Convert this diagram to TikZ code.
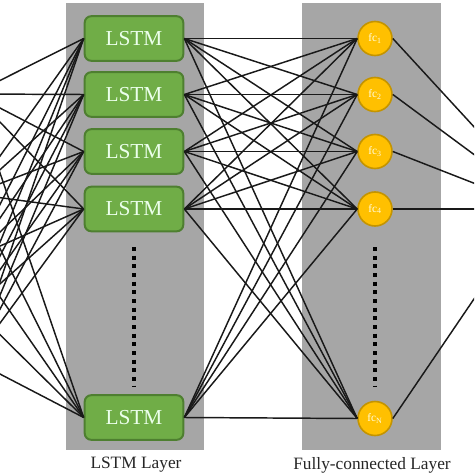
\documentclass[tikz,border=0pt]{standalone}
\usepackage{fontspec}
\setmainfont{Liberation Serif}
\definecolor{panelgray}{HTML}{A6A6A6}
\definecolor{lstmgreen}{HTML}{70AD47}
\definecolor{lstmedge}{HTML}{4E7F30}
\definecolor{fcgold}{HTML}{FFC000}
\definecolor{fcedge}{HTML}{C49400}
\tikzset{
  lstm/.style={draw=lstmedge,line width=1.5pt,fill=lstmgreen,rounded corners=5pt,
    minimum width=74pt,minimum height=33.5pt,inner sep=0pt,
    text=white!92!green,font=\rmfamily\fontsize{16}{17}\selectfont},
  fc/.style={circle,draw=fcedge,line width=1.2pt,fill=fcgold,minimum size=25.5pt,
    inner sep=0pt,text=white!88!yellow,font=\rmfamily\fontsize{8.5}{9}\selectfont},
  link/.style={line width=1.1pt,black!90},
  vdots/.style={line width=2.6pt,dash pattern=on 3pt off 3.5pt},
  layerlabel/.style={font=\rmfamily\fontsize{13}{14}\selectfont,text=black!85}
}

\begin{document}
\begin{tikzpicture}[x=0.75pt,y=-0.75pt]
\useasboundingbox (0,0) rectangle (474,474);
\clip (0,0) rectangle (474,474);
% grey layers
\fill[panelgray] (66,3) rectangle (204,450);
\fill[panelgray] (302,3) rectangle (441,450);
% LSTM units
\node[lstm] (l1) at (134,38.5) {LSTM};
\node[lstm] (l2) at (134,94.5) {LSTM};
\node[lstm] (l3) at (134,151.5) {LSTM};
\node[lstm] (l4) at (134,209) {LSTM};
\node[lstm] (l5) at (134,417.5) {LSTM};
% fully-connected units
\node[fc] (f1) at (375,38.5) {fc\textsubscript{1}};
\node[fc] (f2) at (375,94.5) {fc\textsubscript{2}};
\node[fc] (f3) at (375,151.5) {fc\textsubscript{3}};
\node[fc] (f4) at (375,209) {fc\textsubscript{4}};
\node[fc] (f5) at (375,418.5) {fc\textsubscript{N}};
% inputs and outputs, cut off by the frame
\coordinate (in1) at (-27,94);
\coordinate (in2) at (-27,194);
\coordinate (in3) at (-27,258);
\coordinate (in4) at (-27,308);
\coordinate (in5) at (-27,360);
\coordinate (out1) at (476,129);
\coordinate (out2) at (476,156);
\coordinate (out3) at (476,184);
\coordinate (out4) at (476,209);
\coordinate (out5) at (476,296);
\foreach \i in {1,...,5}
  \foreach \j in {1,...,5} {
    \draw[link] (in\i) -- (l\j.west);
    \draw[link] (l\i.east) -- (f\j.west);
  }
\foreach \i in {1,...,5} \draw[link] (f\i.east) -- (out\i);
% dots
\draw[vdots] (134,247) -- (134,386);
\draw[vdots] (375,247) -- (375,386);
\node[layerlabel] (lstmlabel) at (136,465) {LSTM Layer};
\node[layerlabel] (fclabel) at (372,465) {Fully-connected Layer};
\end{tikzpicture}
\end{document}
